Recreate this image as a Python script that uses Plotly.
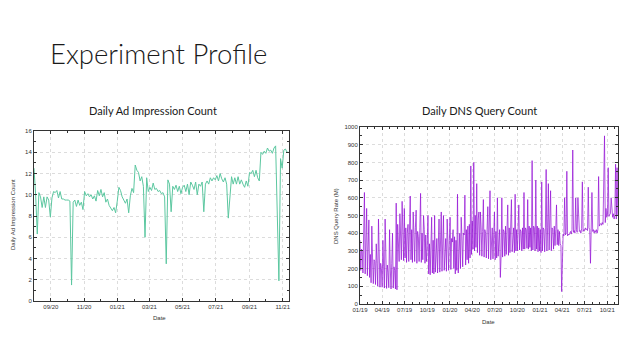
import pandas as pd
import plotly.graph_objects as go

# ---------------- data ----------------
# Daily Ad Impression Count (sampled every 3 days from 2020-08-01)
ad_start = "2020-08-01"
ad_values = [
    12.5, 10.0, 6.3, 10.2, 9.8, 8.8, 9.8, 8.8, 9.8, 9.5,
    7.9, 9.7, 10.3, 10.2, 10.4, 9.7, 10.3, 9.6, 9.6, 9.5,
    9.5, 9.5, 9.4, 1.5, 9.3, 9.5, 8.9, 9.5, 9.0, 9.3,
    8.6, 10.3, 9.9, 10.1, 9.8, 10.0, 9.6, 9.9, 9.4, 10.4,
    9.9, 10.5, 9.8, 10.2, 9.3, 9.6, 9.0, 8.8, 8.5, 8.8,
    8.3, 9.4, 10.7, 10.4, 9.8, 9.5, 9.2, 9.6, 8.3, 9.9,
    10.6, 10.2, 12.8, 12.3, 12.1, 11.3, 11.7, 10.8, 6.0, 11.6,
    10.3, 10.7, 10.4, 11.1, 10.5, 10.6, 10.3, 10.4, 10.1, 10.2,
    9.8, 3.5, 11.4, 11.0, 8.4, 10.8, 10.5, 10.9, 10.3, 10.8,
    10.1, 10.7, 10.9, 10.3, 11.0, 10.0, 11.2, 10.9, 10.5, 11.2,
    10.0, 11.0, 10.8, 11.2, 8.4, 11.0, 11.3, 11.0, 11.6, 11.3,
    11.6, 11.4, 11.8, 11.3, 12.0, 11.5, 11.2, 11.6, 11.0, 7.8,
    10.2, 11.7, 11.0, 11.6, 11.0, 11.7, 11.0, 11.4, 11.0, 10.7,
    11.3, 10.8, 12.1, 12.0, 12.3, 11.7, 12.3, 11.6, 11.3, 14.0,
    13.8, 14.1, 13.9, 14.4, 14.1, 14.2, 13.9, 14.4, 14.6, 8.3,
    1.9, 13.4, 12.5, 14.2, 14.3, 14.0, 14.0,
]

# Daily DNS Query Count (sampled every 3 days from 2019-01-01), grouped by month
dns_start = "2019-01-01"
dns_2019 = [
    360, 190, 310, 300, 175, 330, 630, 170, 320, 540,          # Jan
    160, 300, 475, 150, 280, 120, 440, 260, 115, 250,          # Feb
    240, 110, 340, 230, 100, 480, 210, 95, 230, 200,           # Mar
    95, 360, 210, 90, 480, 190, 88, 220, 180, 92,              # Apr
    420, 200, 85, 230, 400, 90, 210, 190, 85, 570,             # May
    80, 450, 260, 240, 510, 400, 250, 580, 420, 245,           # Jun
    540, 260, 430, 235, 400, 450, 240, 390, 610, 250,          # Jul
    420, 235, 520, 400, 240, 430, 530, 230, 410, 380, 240,     # Aug
    430, 625, 235, 400, 250, 500, 420, 230, 390, 240,          # Sep
    330, 500, 170, 340, 165, 350, 490, 175, 360, 170,          # Oct
    500, 180, 350, 370, 175, 340, 480, 180, 360, 520,          # Nov
    185, 360, 500, 190, 340, 370, 185, 480, 350, 190, 360,     # Dec
]
dns_2020 = [
    490, 195, 370, 350, 420, 200, 380, 170, 360, 190,          # Jan
    620, 175, 380, 400, 200, 490, 380, 210, 400, 390,          # Feb
    615, 220, 420, 250, 440, 230, 450, 260, 780, 280,          # Mar
    470, 310, 800, 300, 500, 320, 680, 290, 480, 520,          # Apr
    275, 520, 430, 270, 410, 590, 265, 420, 400, 260,          # May
    420, 550, 255, 410, 640, 250, 400, 430, 255, 420,          # Jun
    520, 250, 410, 260, 600, 270, 400, 420, 150, 270,          # Jul
    600, 265, 420, 410, 270, 440, 280, 420, 560, 275, 430,     # Aug
    290, 420, 590, 295, 410, 430, 290, 620, 300, 420,          # Sep
    300, 430, 560, 305, 420, 410, 300, 430, 310, 630,          # Oct
    310, 430, 420, 315, 590, 310, 440, 320, 430, 300,          # Nov
    810, 305, 440, 430, 300, 700, 310, 440, 295, 430, 300,     # Dec
]
dns_2021 = [
    420, 290, 690, 300, 430, 420, 295, 430, 760, 300,          # Jan
    430, 680, 305, 440, 640, 300, 430, 420, 310, 440,          # Feb
    330, 420, 560, 335, 420, 330, 410, 340, 330, 70,           # Mar
    380, 395, 385, 600, 390, 400, 750, 385, 395, 390,          # Apr
    400, 410, 395, 420, 870, 405, 415, 400, 600, 420,          # May
    405, 600, 420, 410, 415, 400, 425, 690, 410, 420,          # Jun
    415, 430, 420, 425, 415, 660, 430, 420, 230, 420,          # Jul
    630, 410, 420, 400, 415, 405, 420, 400, 420, 720, 440,     # Aug
    450, 455, 445, 460, 450, 680, 950, 460, 540, 490,          # Sep
    500, 770, 495, 505, 510, 600, 500, 490, 510, 480,          # Oct
    500, 790, 480, 770, 500,                                   # Nov
]
dns_values = dns_2019 + dns_2020 + dns_2021

ad_dates = pd.date_range(ad_start, periods=len(ad_values), freq="3D")
dns_dates = pd.date_range(dns_start, periods=len(dns_values), freq="3D")

# ---------------- figure ----------------
W, H = 638, 359
def px(x):
    return x / W
def py(y):
    return 1 - y / H

fig = go.Figure()
fig.add_trace(go.Scatter(x=ad_dates, y=ad_values, mode="lines",
                         line=dict(color="#5cc7a0", width=1),
                         xaxis="x", yaxis="y", showlegend=False))
fig.add_trace(go.Scatter(x=dns_dates, y=dns_values, mode="lines",
                         line=dict(color="#9412d6", width=1),
                         opacity=0.72,
                         xaxis="x2", yaxis="y2", showlegend=False))

tickfont = dict(family="Liberation Sans", size=6, color="#333")
common = dict(showline=True, linecolor="#333", linewidth=1, mirror="ticks",
              ticks="inside", ticklen=3, tickcolor="#333", automargin=False,
              showgrid=True, gridcolor="#dcdcdc", griddash="dot", gridwidth=1,
              zeroline=False, tickfont=tickfont)

fig.update_layout(
    width=W, height=H,
    margin=dict(l=0, r=0, t=0, b=0, autoexpand=False),
    paper_bgcolor="white", plot_bgcolor="white",
    xaxis=dict(domain=[px(34), px(288.7)], anchor="y",
               range=["2020-08-01", "2021-11-12"],
               tick0="2020-09-01", dtick="M2", tickformat="%m/%y",
               minor=dict(ticks="inside", ticklen=2, dtick="M1", tick0="2020-08-01",
                          tickcolor="#333", showgrid=False),
               **common),
    yaxis=dict(domain=[py(301), py(131)], anchor="x",
               range=[0, 16], dtick=2,
               minor=dict(ticks="inside", ticklen=2, dtick=1, tickcolor="#333",
                          showgrid=False),
               **common),
    xaxis2=dict(domain=[px(360), px(618.3)], anchor="y2",
                range=["2019-01-01", "2021-11-15"],
                tick0="2019-01-01", dtick="M3", tickformat="%m/%y",
                minor=dict(ticks="inside", ticklen=2, dtick="M1", tick0="2019-01-01",
                           tickcolor="#333", showgrid=False),
                **common),
    yaxis2=dict(domain=[py(304), py(127)], anchor="x2",
                range=[0, 1000], dtick=100,
                minor=dict(ticks="inside", ticklen=2, dtick=50, tickcolor="#333",
                           showgrid=False),
                **common),
)

slide_font = "Lato"
ann = [
    dict(text="Experiment Profile", x=px(48), y=py(53), xanchor="left", yanchor="middle",
         font=dict(family=slide_font, size=27.5, color="#1a1a1a", weight=300)),
    dict(text="Daily Ad Impression Count", x=px(153), y=py(110), xanchor="center",
         yanchor="middle", font=dict(family=slide_font, size=11, color="#1a1a1a")),
    dict(text="Daily DNS Query Count", x=px(479), y=py(110), xanchor="center",
         yanchor="middle", font=dict(family=slide_font, size=11, color="#1a1a1a")),
    dict(text="Date", x=px(160), y=py(318), xanchor="center", yanchor="middle",
         font=dict(family="Liberation Sans", size=6, color="#333")),
    dict(text="Date", x=px(488), y=py(322), xanchor="center", yanchor="middle",
         font=dict(family="Liberation Sans", size=6, color="#333")),
    dict(text="Daily Ad Impression Count", x=px(13), y=py(215), textangle=-90,
         xanchor="center", yanchor="middle",
         font=dict(family="Liberation Sans", size=6, color="#333")),
    dict(text="DNS Query Rate (M)", x=px(336), y=py(216), textangle=-90,
         xanchor="center", yanchor="middle",
         font=dict(family="Liberation Sans", size=6, color="#333")),
]
for a in ann:
    a.update(xref="paper", yref="paper", showarrow=False)
fig.update_layout(annotations=ann)

# remove the browser's default page margin so the figure sits at (0, 0)
fig.write_html("out.html",
               config={"displayModeBar": False, "staticPlot": True},
               post_script="document.body.style.margin='0';document.body.style.overflow='hidden';")
